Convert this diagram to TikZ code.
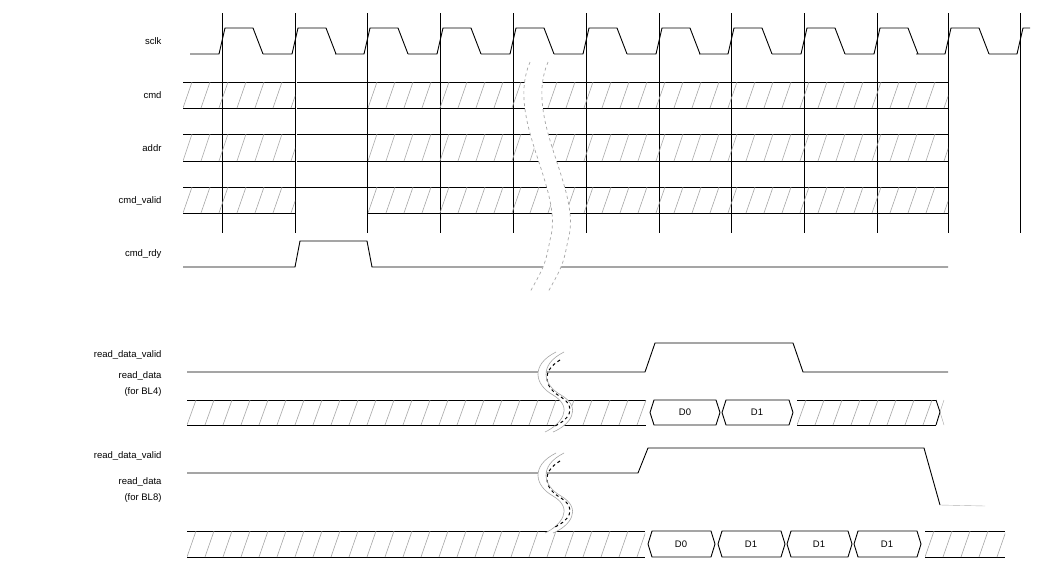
\documentclass[tikz,border=0pt]{standalone}
\usepackage{fontspec}
\setmainfont{Liberation Sans}
\tikzset{sig/.style={black,line width=0.9pt},
hat/.style={gray!70,line width=0.6pt},
lbl/.style={anchor=east,font=\fontsize{9.5}{16}\selectfont,align=right},
dlbl/.style={font=\fontsize{9.5}{10}\selectfont},
brk/.style={gray!70,dashed,line width=0.7pt}}
\newcommand\hbus[4]{%
 \draw[sig] (#1,#3)--(#2,#3) (#1,#4)--(#2,#4);
 \begin{scope}\clip (#1,#3) rectangle (#2,#4);
 \pgfmathsetmacro\hbnx{#1+18}
 \foreach \xx in {#1,\hbnx,...,#2}{\draw[hat] (\xx,#4)--(\xx+9,#3);}
 \end{scope}}
\newcommand\dcell[5]{%
 \draw[sig] (#1,#3)--(#1+4,#4)--(#2-4,#4)--(#2,#3)--(#2-4,#5)--(#1+4,#5)--cycle;}
\begin{document}
\begin{tikzpicture}[x=1pt,y=-1pt]
\useasboundingbox[fill=white] (0,0) rectangle (1051,571);
% labels
\node[lbl] (l1) at (165,41) {sclk};
\node[lbl] (l2) at (165,95) {cmd};
\node[lbl] (l3) at (165,148) {addr};
\node[lbl] (l4) at (165,201) {cmd\_valid};
\node[lbl] (l5) at (165,254) {cmd\_rdy};
\node[lbl] (l6) at (165,355) {read\_data\_valid};
\node[lbl] (l7) at (165,384) {read\_data\\(for BL4)};
\node[lbl] (l8) at (165,456) {read\_data\_valid};
\node[lbl] (l9) at (165,490) {read\_data\\(for BL8)};
% clock verticals
\foreach \x in {222,295,367,440,513,586,659,731,804,877,948,1020}
 \draw[sig] (\x,13)--(\x,233);
% clock
\draw[sig] (190,54)--(219,54)--(225,28)--(253,28)--(263,54);
\foreach \x in {295,367,440,513,586,659,731,804,877,948}
 \draw[sig] (\x-32,54)--(\x-3,54)--(\x+3,28)--(\x+31,28)--(\x+41,54);
\draw[sig] (989,54)--(1017,54)--(1023,28)--(1030,28);
% cmd, addr
\foreach \yt/\yb in {82/108,134/161}{
 \hbus{183}{295}{\yt}{\yb}
 \draw[sig] (297,\yt)--(367,\yt) (297,\yb)--(367,\yb);
 \hbus{368}{948}{\yt}{\yb}}
% cmd_valid
\hbus{183}{295}{187}{213}
\draw[sig] (295,187)--(367,187);
\hbus{368}{948}{187}{213}
% cmd_rdy
\draw[sig] (183,267)--(295,267)--(300,241)--(367,241)--(372,267)--(948,267);
% big break
\fill[white] (530,62) .. controls (505,120) and (565,190) .. (550,240) .. controls (545,265) .. (530,292)
 -- (548,292) .. controls (563,265) .. (568,240) .. controls (583,190) and (523,120) .. (548,62) -- cycle;
\draw[brk] (530,62) .. controls (505,120) and (565,190) .. (550,240) .. controls (545,265) .. (530,292);
\draw[brk] (548,62) .. controls (523,120) and (583,190) .. (568,240) .. controls (563,265) .. (548,292);
% group 1
\draw[sig] (187,372)--(645,372)--(655,343)--(793,343)--(803,372)--(948,372);
\hbus{187}{646}{400}{425}
\dcell{650}{720}{412.5}{400}{425}
\node[dlbl] (d0a) at (685,412.5) {D0};
\dcell{722}{793}{412.5}{400}{425}
\node[dlbl] (d1a) at (757,412.5) {D1};
\hbus{797}{936}{400}{425}
\draw[sig] (936,400)--(940,412)--(936,425);
\draw[gray!70] (944,400)--(940,412)--(944,425);
% group 2
\draw[sig] (187,473)--(638,473)--(648,448)--(924,448)--(940,505);
\draw[gray!60] (940,505)--(985,506);
\hbus{187}{645}{531}{557}
\dcell{648}{715}{544}{531}{557}
\node[dlbl] (d0b) at (681,544) {D0};
\dcell{718}{785}{544}{531}{557}
\node[dlbl] (d1b) at (751,544) {D1};
\dcell{787}{852}{544}{531}{557}
\node[dlbl] (d1c) at (819,544) {D1};
\dcell{854}{921}{544}{531}{557}
\node[dlbl] (d1d) at (887,544) {D1};
\hbus{925}{1005}{531}{557}
% small breaks
\foreach \yo in {0,101}{
\begin{scope}[yshift=-\yo pt]
\fill[white] (556,352) .. controls (530,365) and (535,385) .. (553,395) .. controls (575,408) and (560,425) .. (545,432)
 -- (553,432) .. controls (570,425) and (583,408) .. (561,395) .. controls (543,385) and (538,365) .. (564,352) -- cycle;
\draw[gray!70,line width=0.6pt] (556,352) .. controls (530,365) and (535,385) .. (553,395) .. controls (575,408) and (560,425) .. (545,432);
\draw[black,line width=1pt,dashed] (560,360) .. controls (540,372) and (545,388) .. (561,397) .. controls (578,408) and (568,420) .. (555,426);
\draw[gray!70,line width=0.6pt] (564,352) .. controls (538,365) and (543,385) .. (561,395) .. controls (583,408) and (570,425) .. (553,432);
\end{scope}}
\end{tikzpicture}
\end{document}
